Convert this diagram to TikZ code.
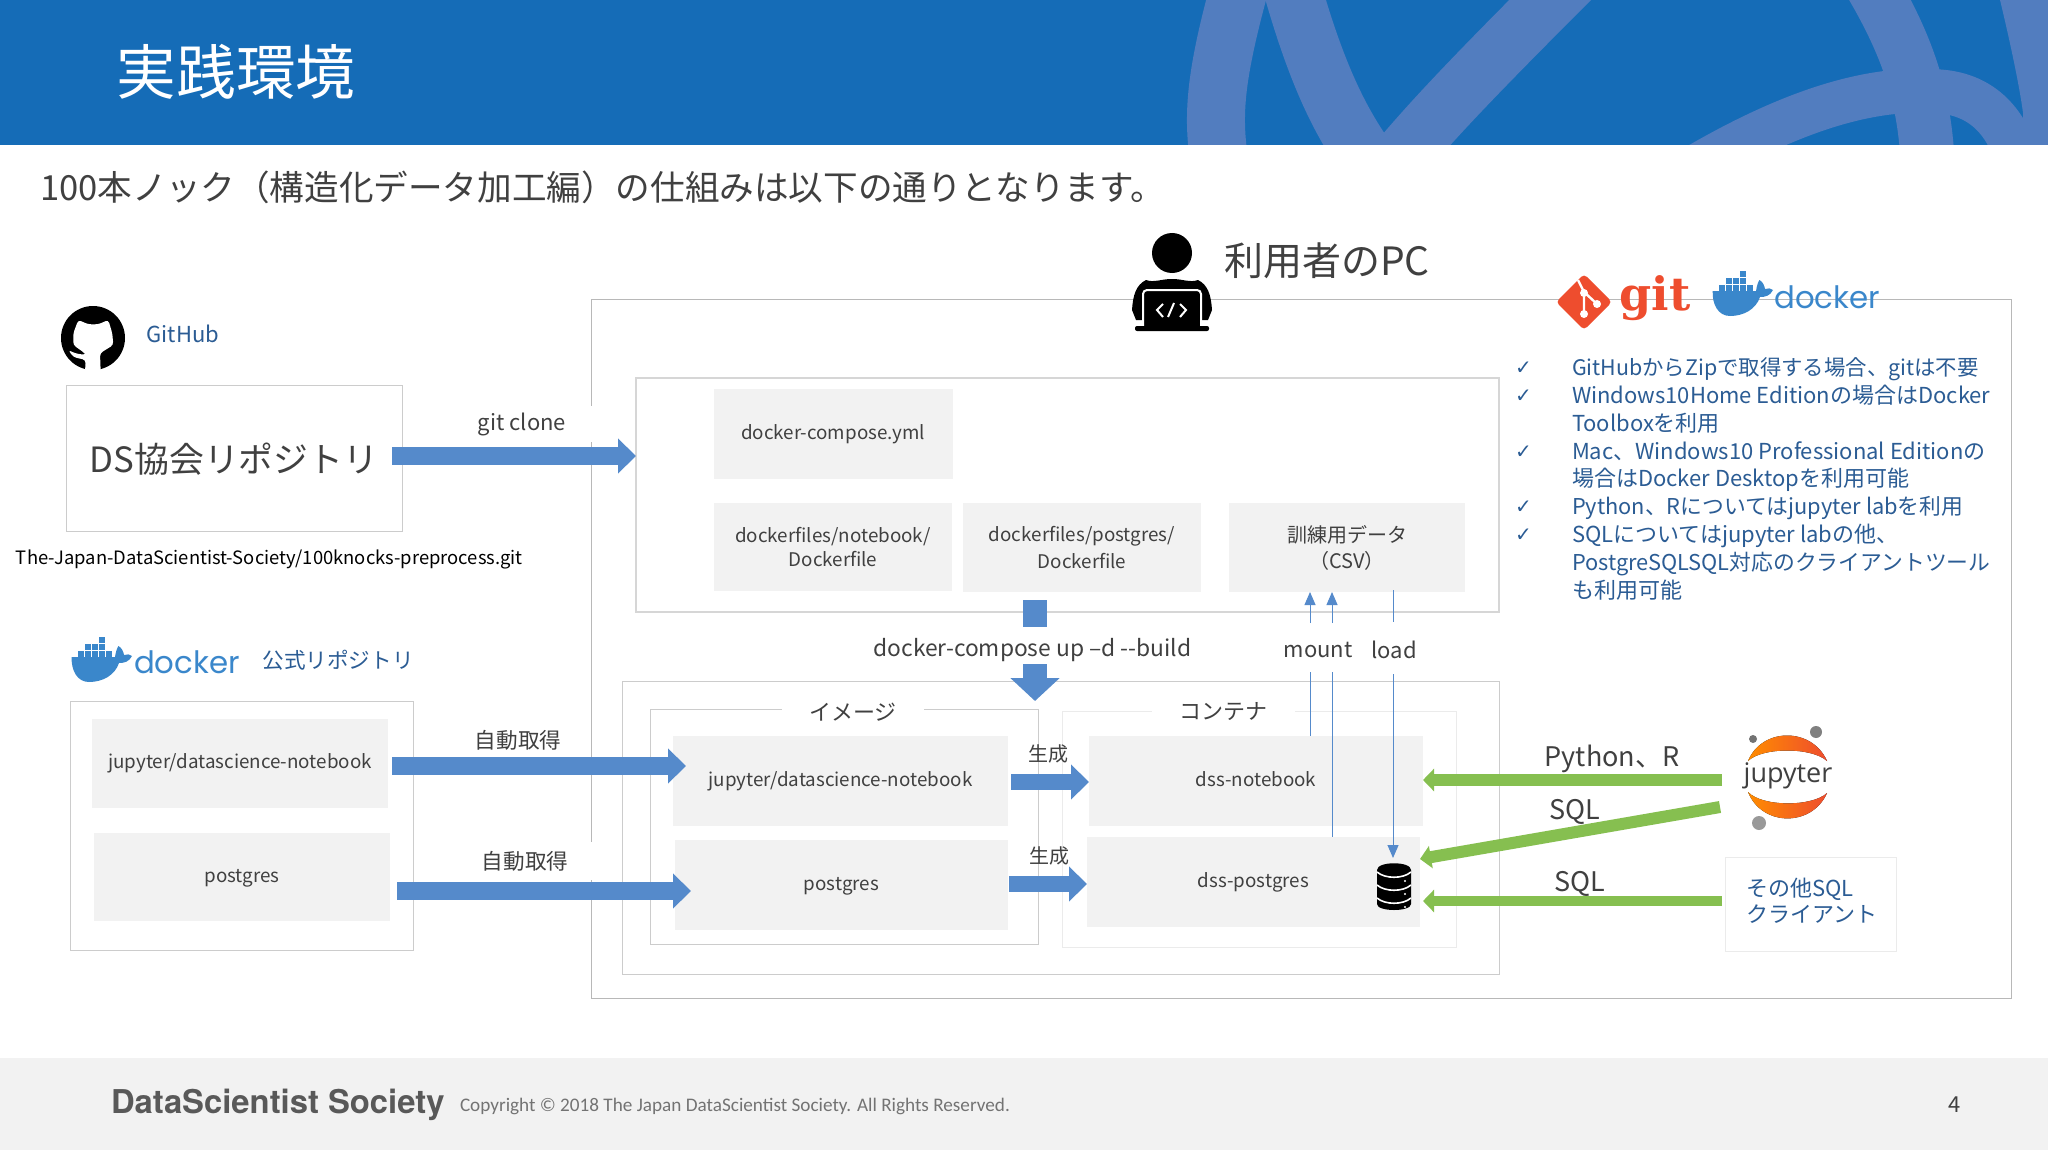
\documentclass[tikz,border=0pt]{standalone}
\usepackage{fontspec}
\usepackage{xcolor}
\usetikzlibrary{arrows.meta}
\setmainfont{Noto Sans CJK JP}
\newfontfamily\symfont{DejaVu Sans}
\newfontfamily\copyfont{Carlito}
\newfontfamily\logofont{TeX Gyre Heros}
\newfontfamily\dockerfont{Poppins}
\newfontfamily\gitfont{DejaVu Serif}
\newfontfamily\jupyterfont{Open Sans}
\newcommand{\fsz}[1]{\fontsize{#1}{#1}\selectfont}

\definecolor{headblue}{HTML}{156CB7}
\definecolor{headlight}{HTML}{527DBF}
\definecolor{arrowblue}{HTML}{558ACB}
\definecolor{arrowgreen}{HTML}{86BF50}
\definecolor{boxgrey}{HTML}{F2F2F2}
\definecolor{linegrey}{HTML}{CCCCCC}
\definecolor{palegrey}{HTML}{EBEBEB}
\definecolor{textgrey}{HTML}{404040}
\definecolor{textblue}{HTML}{2B5C94}
\definecolor{whaleblue}{HTML}{3A87CB}
\definecolor{gitred}{HTML}{EE4D2E}

\tikzset{
  plain/.style={inner sep=0pt,outer sep=0pt,text=textgrey,font=\fsz{10}},
  wh/.style 2 args={minimum width=#1*0.5pt,minimum height=#2*0.5pt},
  framebox/.style={draw=linegrey,line width=0.5pt,fill=white,inner sep=0pt,outer sep=0pt,anchor=north west},
  palebox/.style={framebox,draw=palegrey},
  filebox/.style={fill=boxgrey,inner sep=0pt,plain,font=\fsz{9.4},align=center},
  oneline/.style={filebox,text height=7.5pt,text depth=2.5pt},
  bluearrow/.style={draw=arrowblue,line width=9pt,-{Triangle[length=9pt,width=17pt]}},
  greenarrow/.style={draw=arrowgreen,line width=6pt,-{Triangle[length=5.5pt,width=11pt]}},
  thinarrow/.style={draw=arrowblue,line width=0.5pt,-{Triangle[length=6.5pt,width=5.5pt]}},
  thinline/.style={draw=arrowblue,line width=0.5pt},
  bulletmark/.style={plain,text=textblue,font=\symfont\fsz{10},anchor=base west},
  bullettext/.style={plain,text=textblue,font=\fsz{11},anchor=base west},
  whale/.pic={
    \fill[whaleblue] (0.7,20) -- (44,20) .. controls (45,14) and (46,11) .. (47.5,9)
      .. controls (51,11) and (52.5,15) .. (53,18) .. controls (56,17) and (59,17) .. (61,19)
      .. controls (58,25) and (53,26) .. (48,26) .. controls (44,38) and (32,45) .. (18,45)
      .. controls (6,45) and (0,33) .. (0.7,20) -- cycle;
    \foreach \cx/\cy in {6.5/14,13.5/14,20.5/14,27.5/14,34.5/14,13.5/7,20.5/7,27.5/7,27.5/0}
      \fill[whaleblue] (\cx,\cy) rectangle ++(6,6);
  },
}

\begin{document}
\begin{tikzpicture}[x=0.5pt,y=-0.5pt]
\useasboundingbox (0,0) rectangle (2048,1150);
\fill[white] (0,0) rectangle (2048,1150);

% header
\fill[headblue] (0,0) rectangle (2048,145);
\begin{scope}
\clip (0,0) rectangle (2048,145);
\draw[headlight,line width=29pt] (1250,-50) .. controls (1215,70) and (1212,110) .. (1219,160);
\draw[headlight,line width=29pt] (1282,-50) .. controls (1315,80) and (1345,130) .. (1375,170);
\draw[headlight,line width=29pt] (1600,-50) .. controls (1490,60) and (1420,130) .. (1375,190);
\draw[headlight,line width=22pt] (1690,170) .. controls (1800,105) and (1880,85) .. (1945,92) .. controls (1985,97) and (2010,125) .. (2020,170);
\draw[headlight,line width=27pt] (1850,-50) .. controls (1905,35) and (1925,90) .. (1928,170);
\fill[headlight] (2000,0) .. controls (2012,50) and (2020,90) .. (2023,113) -- (2023,145) -- (2048,145) -- (2048,0) -- cycle;
\end{scope}
\node[plain,text=white,font=\fsz{29.8}] (title) at (236,72) {実践環境};
\node[plain,font=\fsz{17.3},anchor=west] (lead) at (40,187) {100本ノック（構造化データ加工編）の仕組みは以下の通りとなります。};

% outer frames
\node[framebox,draw=linegrey!90!black,wh={1420}{699}] (pcbox) at (591,299) {};
\node[framebox,wh={336}{146}] (dsbox) at (66.5,385) {};
\node[framebox,wh={343}{249}] (hubbox) at (70,701) {};
\node[framebox,draw=linegrey!80,line width=0.8pt,wh={863}{234}] (filesbox) at (636,378) {};
\node[framebox,wh={877}{293}] (runbox) at (622,681) {};
\node[framebox,wh={388}{235}] (imgbox) at (650,709) {};
\node[palebox,wh={394}{236}] (conbox) at (1062,711) {};
\node[palebox,wh={171}{94}] (otherbox) at (1725,857) {};

% grey boxes
\node[oneline,wh={239}{90}] (compose) at (833,434) {docker-compose.yml};
\node[filebox,wh={238}{88}] (nbfile) at (833,547) {dockerfiles/notebook/\\[3pt]Dockerfile};
\node[filebox,wh={238}{89}] (pgfile) at (1082,547.5) {dockerfiles/postgres/\\[3pt]Dockerfile};
\node[filebox,wh={236}{89},font=\fsz{10}] (csvfile) at (1347,547.5) {訓練用データ\\[3pt]（CSV）};
\node[oneline,wh={296}{89}] (hubnb) at (240,763.5) {jupyter/datascience-notebook};
\node[oneline,wh={296}{88}] (hubpg) at (242,877) {postgres};
\node[oneline,wh={335}{90}] (imgnb) at (840.5,781) {jupyter/datascience-notebook};
\node[oneline,wh={333}{90}] (imgpg) at (841.5,885) {postgres};
\node[oneline,wh={334}{90}] (dssnb) at (1256,781) {dss-notebook};
\node[oneline,wh={333}{90}] (dsspg) at (1253.5,882) {dss-postgres};

% frame labels
\node[plain,fill=white,wh={142}{24},font=\fsz{11}] (imglabel) at (853,712) {イメージ};
\node[plain,fill=white,wh={143}{24},font=\fsz{11}] (conlabel) at (1223,712) {コンテナ};
\node[plain,font=\fsz{17.4}] (dslabel) at (234,459) {DS協会リポジトリ};
\node[plain,text=textblue,font=\fsz{11}] (hublabel) at (183,334) {GitHub};
\node[plain,text=black,font=\fsz{9.2},anchor=west] (repolabel) at (16,559) {The-Japan-DataScientist-Society/100knocks-preprocess.git};
\node[plain,text=textblue,font=\fsz{10.8}] (officiallabel) at (338,660) {公式リポジトリ};
\node[plain,font=\fsz{19.5},anchor=west] (pclabel) at (1224,261) {利用者のPC};
\node[plain,text=textblue,font=\fsz{11},align=left,anchor=west] (otherlabel) at (1746,901) {その他SQL\\[2pt]クライアント};

% arrows and their labels
\coordinate (gitfrom) at (392,456);
\coordinate (autoa) at (392,766);
\coordinate (autob) at (397,891);
\coordinate (makea) at (1011,782);
\coordinate (makeb) at (1009,884);
\node[plain,fill=white,wh={150}{36},font=\fsz{11}] (clonelabel) at (522,424) {git clone};
\node[plain,font=\fsz{10.8}] (autolabela) at (518,740) {自動取得};
\node[plain,fill=white,wh={140}{38},font=\fsz{10.8}] (autolabelb) at (525,861) {自動取得};
\node[plain] (makelabela) at (1048,754) {生成};
\node[plain] (makelabelb) at (1049,856) {生成};
\draw[bluearrow] (gitfrom) -- (gitfrom -| filesbox.west);
\draw[bluearrow] (autoa) -- (686,766);
\draw[bluearrow] (autob) -- (691,891);
\draw[bluearrow,line width=8pt] (makea) -- (makea -| dssnb.west);
\draw[bluearrow,line width=8pt] (makeb) -- (makeb -| dsspg.west);

\coordinate (stubfrom) at (1035,600);
\coordinate (stubto) at (1035,627);
\coordinate (buildfrom) at (1035,664);
\coordinate (buildto) at (1035,701);
\draw[draw=arrowblue,line width=12pt] (stubfrom) -- (stubto);
\draw[bluearrow,line width=12pt,-{Triangle[length=11.5pt,width=24pt]}] (buildfrom) -- (buildto);
\node[plain,font=\fsz{11.4}] (buildlabel) at (1032.5,650) {docker-compose up –d -{}-build};

\coordinate (mounta) at (1310,623);
\coordinate (mountb) at (1332,623);
\coordinate (mountc) at (1310,672);
\coordinate (mountd) at (1332,672);
\coordinate (loada) at (1393,590);
\coordinate (loadb) at (1393,622);
\coordinate (loadc) at (1393,674);
\coordinate (loadd) at (1393,858);
\draw[thinarrow] (mounta) -- (mounta |- csvfile.south);
\draw[thinarrow] (mountb) -- (mountb |- csvfile.south);
\draw[thinline] (loada) -- (loadb);
\draw[thinline] (mountc) -- (mountc |- dssnb.north);
\draw[thinline] (mountd) -- (mountd |- dsspg.north);
\draw[thinarrow] (loadc) -- (loadd);
\node[plain,font=\fsz{11}] (mountlabel) at (1318,650) {mount};
\node[plain,font=\fsz{11}] (loadlabel) at (1394,650) {load};

\coordinate (pyfrom) at (1722,780);
\coordinate (sqlfrom) at (1720,807);
\coordinate (sqlto) at (1420,859);
\coordinate (clientfrom) at (1722,901);
\draw[greenarrow] (pyfrom) -- (pyfrom -| dssnb.east);
\draw[greenarrow] (sqlfrom) -- (sqlto);
\draw[greenarrow,line width=5pt] (clientfrom) -- (clientfrom -| dssnb.east);
\node[plain,font=\fsz{13.5}] (pylabel) at (1612,759) {Python、R};
\node[plain,font=\fsz{13.5}] (sqllabela) at (1575,812) {SQL};
\node[plain,font=\fsz{13.5}] (sqllabelb) at (1580,884) {SQL};

% notes
\node[bulletmark] (checka) at (1515,374) {✓};
\node[bulletmark] (checkb) at (1515,402) {✓};
\node[bulletmark] (checkc) at (1515,458) {✓};
\node[bulletmark] (checkd) at (1515,513) {✓};
\node[bulletmark] (checke) at (1515,541) {✓};
\node[bullettext,font=\fsz{10.7}] (notea) at (1572,375) {GitHubからZipで取得する場合、gitは不要};
\node[bullettext] (noteb) at (1572,403) {Windows10Home Editionの場合はDocker};
\node[bullettext] (notec) at (1572,431) {Toolboxを利用};
\node[bullettext] (noted) at (1572,459) {Mac、Windows10 Professional Editionの};
\node[bullettext] (notee) at (1572,486) {場合はDocker Desktopを利用可能};
\node[bullettext,font=\fsz{10.9}] (notef) at (1572,514) {Python、Rについてはjupyter labを利用};
\node[bullettext] (noteg) at (1572,542) {SQLについてはjupyter labの他、};
\node[bullettext,font=\fsz{10.9}] (noteh) at (1572,570) {PostgreSQLSQL対応のクライアントツール};
\node[bullettext] (notei) at (1572,598) {も利用可能};

% github logo
\fill[black] (93,338) circle (32);
\fill[white,rounded corners=1.5pt] (78.3,320) -- (88.3,324.3) -- (98.3,324.3) -- (108.3,320) -- (112.3,333.3) -- (113.3,345)
  -- (100,353.3) -- (100.7,372) -- (85,372) -- (85.7,360) -- (73.3,357) -- (68.3,350) -- (75,353.3) -- (85.7,355) -- (85,353.3)
  -- (73.3,345) -- (73.3,333.3) -- cycle;

% docker logos
\pic at (71,637) {whale};
\node[plain,text=whaleblue,font=\dockerfont\fsz{15.4}] (dockertexta) at (187,662) {docker};
\pic at (1712,271) {whale};
\node[plain,text=whaleblue,font=\dockerfont\fsz{15.4}] (dockertextb) at (1827,297) {docker};

% git logo
\fill[gitred,rounded corners=2pt] (1584,274) -- (1612,302) -- (1584,330) -- (1556,302) -- cycle;
\draw[white,line width=1.2pt] (1578,280) -- (1584,292) -- (1584,314) (1584,292) -- (1597,304);
\fill[white] (1584,293) circle (4) (1584,314) circle (4) (1597,304) circle (4);
\node[plain,text=gitred,font=\gitfont\bfseries\fsz{23}] (gitlabel) at (1655,298) {git};

% user icon
\fill[black] (1172,253) circle (20);
\fill[black] (1136,320) -- (1132,310) .. controls (1133,295) and (1136,285) .. (1146,280) .. controls (1155,283) and (1160,279) .. (1172,279)
  .. controls (1184,279) and (1189,283) .. (1198,280) .. controls (1208,285) and (1211,295) .. (1212,310) -- (1208,320) -- cycle;
\draw[white,line width=1pt,rounded corners=2pt,fill=black] (1143,326) -- (1143,290) -- (1201,290) -- (1201,326);
\fill[black,rounded corners=1pt] (1135,326) rectangle (1209,331);
\draw[white,line width=1pt] (1163,304) -- (1157,310) -- (1163,317) (1174,303) -- (1168,317) (1180,304) -- (1186,310) -- (1180,317);

% jupyter logo
\fill[left color=orange!90!yellow,right color=gitred] (1748,761) .. controls (1762,727) and (1812,727) .. (1827,761) .. controls (1812,747) and (1762,747) .. cycle;
\fill[left color=orange!90!yellow,right color=gitred] (1748,792) .. controls (1762,827) and (1812,827) .. (1827,793) .. controls (1812,807) and (1762,807) .. cycle;
\fill[gray!90!black] (1753,739) circle (4);
\fill[gray] (1816,732) circle (6);
\fill[gray!80] (1759,823) circle (7);
\node[plain,font=\jupyterfont\fsz{13.5}] (jupyterlabel) at (1788,776) {jupyter};

% database icon
\fill[black] (1377,870) .. controls (1377,861) and (1411,861) .. (1411,870) -- (1411,904) .. controls (1411,912) and (1377,912) .. (1377,904) -- cycle;
\draw[white,line width=0.8pt] (1377,872) .. controls (1385,879) and (1403,879) .. (1411,872);
\draw[white,line width=0.8pt] (1377,885) .. controls (1385,892) and (1403,892) .. (1411,885);
\draw[white,line width=0.8pt] (1377,898) .. controls (1385,905) and (1403,905) .. (1411,898);
\fill[white] (1405,881) circle (1.2) (1405,894) circle (1.2) (1405,907) circle (1.2);

% footer
\fill[boxgrey] (0,1058) rectangle (2048,1150);
\node[plain,text=black!65,font=\logofont\bfseries\fsz{16.4},anchor=west] (brand) at (111,1105) {DataScientist Society};
\node[plain,text=black!55,font=\copyfont\fsz{9.6},anchor=west] (copyright) at (460,1106) {Copyright © 2018 The Japan DataScientist Society. All Rights Reserved.};
\node[plain,font=\fsz{11}] (pagenum) at (1955,1105) {4};
\end{tikzpicture}
\end{document}
